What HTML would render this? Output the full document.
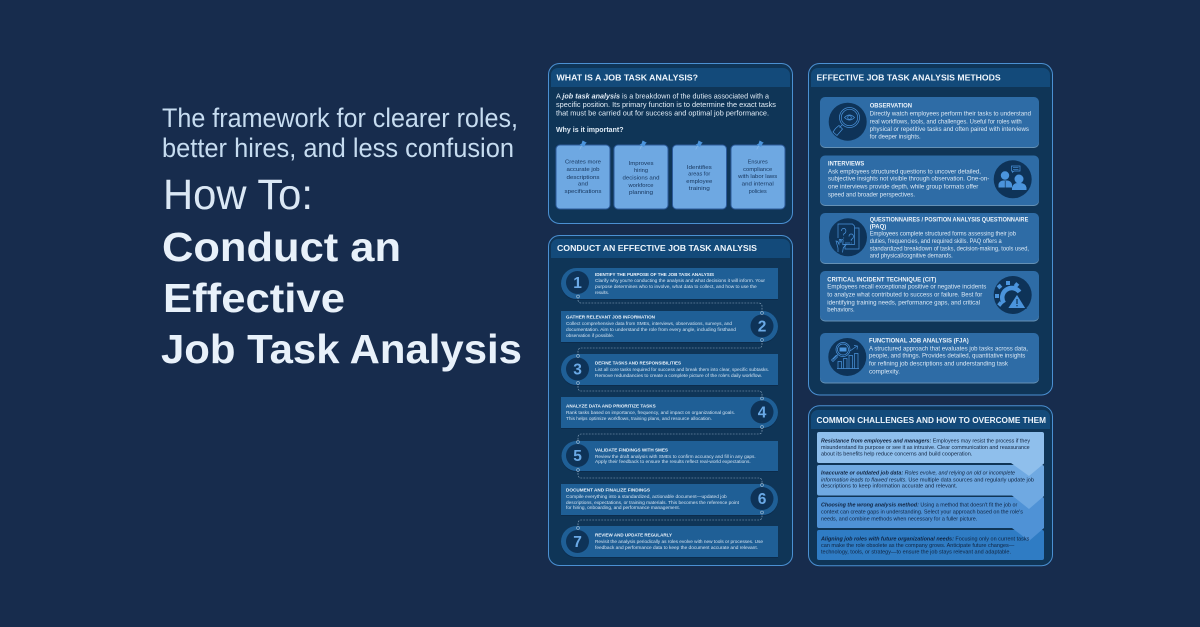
<!DOCTYPE html>
<html><head><meta charset="utf-8"><style>
html,body{margin:0;padding:0;background:#172c4d;width:1200px;height:627px;overflow:hidden}
svg{display:block}
text{font-family:"Liberation Sans",sans-serif}
.h{font-weight:700;font-size:8.6px;fill:#eef5fc}
.p{font-size:7px;fill:#e2edf7}
.c{font-size:5.5px;fill:#17355c;text-anchor:middle}
.st{font-size:4.9px;font-weight:700;fill:#eef5fc}
.sb{font-size:4.9px;fill:#d3e2f0}
.mt{font-size:6px;font-weight:700;fill:#eef5fc}
.mb{font-size:6px;fill:#dce9f5}
.r{font-size:5.6px;fill:#10233f}
.n{font-size:15.5px;font-weight:700;fill:#6aa9e6;text-anchor:middle}
.bi{font-weight:700;font-style:italic}
.i{font-style:italic}
.ic{fill:none;stroke:#4b94dc;stroke-width:.7}
.if{fill:#4b94dc}
.panel{fill:#0f3557;stroke:#4b90d2;stroke-width:1}
.hd{fill:#134a7a}
.card{fill:#6ea8e2;stroke:#2c5a9a;stroke-width:1}
.bar{fill:#1f5f96}
.sh{fill:#0c2c4c}
.cir{fill:#0e3358}
.m{fill:#2e6ca6}
.ms{fill:#6591b5}
.dash{fill:none;stroke:#8fabc4;stroke-width:.6;stroke-dasharray:1.8 1.2}
.dot{fill:#1f5f96;stroke:#a5bfd6;stroke-width:.6}
</style></head><body>
<svg width="1200" height="627" viewBox="0 0 1200 627" xmlns="http://www.w3.org/2000/svg">
<defs><g id="pin"><path d="M582.6 140.500l4.200 2.300-1.100 .7-1.600 3 .9 1-5.400-3 1.900-.7 1-3.100z" fill="#4b94dc"/><path d="M581.500 146l-1.800 3.400" stroke="#8fbfec" stroke-width=".6" fill="none"/></g></defs>
<rect width="1200" height="627" fill="#172c4d"/>

<!-- left headline -->
<text x="162" y="127" font-size="26.5" fill="#c6dcf0" textLength="356" lengthAdjust="spacingAndGlyphs">The framework for clearer roles,</text>
<text x="162" y="157" font-size="26.5" fill="#c6dcf0" textLength="352" lengthAdjust="spacingAndGlyphs">better hires, and less confusion</text>
<text x="163" y="209" font-size="43" fill="#dbe8f5" textLength="150" lengthAdjust="spacingAndGlyphs">How To:</text>
<text x="162" y="261" font-size="41" font-weight="700" fill="#e8f1fa" textLength="239" lengthAdjust="spacingAndGlyphs">Conduct an</text>
<text x="163" y="312" font-size="41" font-weight="700" fill="#e8f1fa" textLength="182" lengthAdjust="spacingAndGlyphs">Effective</text>
<text x="161" y="363" font-size="41" font-weight="700" fill="#e8f1fa" textLength="361" lengthAdjust="spacingAndGlyphs">Job Task Analysis</text>

<!-- Panel 1 -->
<rect class="panel" x="548.5" y="63.5" width="244" height="160" rx="11"/>
<path class="hd" d="M551 87V75a7 7 0 0 1 7-7H783a7 7 0 0 1 7 7V87Z"/>
<text class="h" x="556.5" y="80.5" textLength="141.5" lengthAdjust="spacingAndGlyphs">WHAT IS A JOB TASK ANALYSIS?</text>
<text class="p" x="556" y="98.5" textLength="213" lengthAdjust="spacingAndGlyphs">A <tspan class="bi">job task analysis</tspan> is a breakdown of the duties associated with a</text>
<text class="p" x="556" y="107" textLength="220" lengthAdjust="spacingAndGlyphs">specific position. Its primary function is to determine the exact tasks</text>
<text class="p" x="556" y="115.5" textLength="213" lengthAdjust="spacingAndGlyphs">that must be carried out for success and optimal job performance.</text>
<text class="p" x="556" y="132" font-weight="700" textLength="67.5" lengthAdjust="spacingAndGlyphs">Why is it important?</text>

<rect class="card" x="556" y="145" width="54" height="64" rx="4"/>
<rect class="card" x="614" y="145" width="54" height="64" rx="4"/>
<rect class="card" x="672.5" y="145" width="54" height="64" rx="4"/>
<rect class="card" x="731" y="145" width="54" height="64" rx="4"/>
<use href="#pin"/>
<use href="#pin" x="60"/>
<use href="#pin" x="116"/>
<use href="#pin" x="177"/>
<text class="c" x="583" y="163.5" textLength="36" lengthAdjust="spacingAndGlyphs">Creates more</text>
<text class="c" x="583" y="170.8" textLength="33" lengthAdjust="spacingAndGlyphs">accurate job</text>
<text class="c" x="583" y="178.8" textLength="33" lengthAdjust="spacingAndGlyphs">descriptions</text>
<text class="c" x="583" y="185.5" textLength="10" lengthAdjust="spacingAndGlyphs">and</text>
<text class="c" x="583" y="192.8" textLength="37" lengthAdjust="spacingAndGlyphs">specifications</text>
<text class="c" x="641" y="164.8" textLength="25" lengthAdjust="spacingAndGlyphs">Improves</text>
<text class="c" x="641" y="172" textLength="14" lengthAdjust="spacingAndGlyphs">hiring</text>
<text class="c" x="641" y="179.4" textLength="37" lengthAdjust="spacingAndGlyphs">decisions and</text>
<text class="c" x="641" y="186.8" textLength="25" lengthAdjust="spacingAndGlyphs">workforce</text>
<text class="c" x="641" y="193.8" textLength="24" lengthAdjust="spacingAndGlyphs">planning</text>
<text class="c" x="699.3" y="168.8" textLength="25" lengthAdjust="spacingAndGlyphs">Identifies</text>
<text class="c" x="699.3" y="175.4" textLength="22" lengthAdjust="spacingAndGlyphs">areas for</text>
<text class="c" x="699.3" y="182.8" textLength="26" lengthAdjust="spacingAndGlyphs">employee</text>
<text class="c" x="699.3" y="190" textLength="21" lengthAdjust="spacingAndGlyphs">training</text>
<text class="c" x="757.7" y="163.5" textLength="20" lengthAdjust="spacingAndGlyphs">Ensures</text>
<text class="c" x="757.7" y="170.8" textLength="29" lengthAdjust="spacingAndGlyphs">compliance</text>
<text class="c" x="757.7" y="177.8" textLength="39" lengthAdjust="spacingAndGlyphs">with labor laws</text>
<text class="c" x="757.7" y="185.5" textLength="32" lengthAdjust="spacingAndGlyphs">and internal</text>
<text class="c" x="757.7" y="192.8" textLength="18" lengthAdjust="spacingAndGlyphs">policies</text>

<!-- Panel 2 -->
<rect class="panel" x="548.5" y="235.5" width="244" height="330" rx="11"/>
<path class="hd" d="M551 258V246a7 7 0 0 1 7-7H783a7 7 0 0 1 7 7V258Z"/>
<text class="h" x="557" y="251" textLength="200" lengthAdjust="spacingAndGlyphs">CONDUCT AN EFFECTIVE JOB TASK ANALYSIS</text>

<!-- shadows -->
<g class="sh">
<path d="M576.5 269H778V300H576.5a15.5 15.5 0 0 1 0-31Z"/>
<path d="M561 312H762.5a15.5 15.5 0 0 1 0 31H561Z"/>
<path d="M576.5 355H778V386H576.5a15.5 15.5 0 0 1 0-31Z"/>
<path d="M561 398H762.5a15.5 15.5 0 0 1 0 31H561Z"/>
<path d="M576.5 442H778V472H576.5a15 15 0 0 1 0-30Z"/>
<path d="M561 485H762.5a15.5 15.5 0 0 1 0 31H561Z"/>
<path d="M576.5 527H778V558H576.5a15.5 15.5 0 0 1 0-31Z"/>
</g>
<g class="bar">
<path d="M576.5 268H778V299H576.5a15.5 15.5 0 0 1 0-31Z"/>
<path d="M561 311H762.5a15.5 15.5 0 0 1 0 31H561Z"/>
<path d="M576.5 354H778V385H576.5a15.5 15.5 0 0 1 0-31Z"/>
<path d="M561 397H762.5a15.5 15.5 0 0 1 0 31H561Z"/>
<path d="M576.5 441H778V471H576.5a15 15 0 0 1 0-30Z"/>
<path d="M561 484H762.5a15.5 15.5 0 0 1 0 31H561Z"/>
<path d="M576.5 526H778V557H576.5a15.5 15.5 0 0 1 0-31Z"/>
</g>
<g class="cir">
<circle cx="577.5" cy="282.5" r="11.5"/>
<circle cx="762" cy="326" r="11.5"/>
<circle cx="577.5" cy="369" r="11.5"/>
<circle cx="762" cy="412" r="11.5"/>
<circle cx="577.5" cy="455.5" r="11.5"/>
<circle cx="762" cy="498.5" r="11.5"/>
<circle cx="577.5" cy="541.5" r="11.5"/>
</g>
<text class="n" x="577.5" y="288">1</text>
<text class="n" x="762" y="331.5">2</text>
<text class="n" x="577.5" y="374.5">3</text>
<text class="n" x="762" y="417.5">4</text>
<text class="n" x="577.5" y="461">5</text>
<text class="n" x="762" y="504">6</text>
<text class="n" x="577.5" y="547">7</text>

<!-- connectors -->
<path class="dash" d="M578 297v3a3 3 0 0 0 3 3H759a3 3 0 0 1 3 3v7"/>
<path class="dash" d="M762 340v5a3 3 0 0 1-3 3H581a3 3 0 0 0-3 3v5"/>
<path class="dash" d="M578 383v5a3 3 0 0 0 3 3H759a3 3 0 0 1 3 3v5"/>
<path class="dash" d="M762 427v4a3 3 0 0 1-3 3H581a3 3 0 0 0-3 3v5"/>
<path class="dash" d="M578 470v5a3 3 0 0 0 3 3H759a3 3 0 0 1 3 3v4"/>
<path class="dash" d="M762 512.5v4.5a3 3 0 0 1-3 3H581a3 3 0 0 0-3 3v5"/>
<g class="dot">
<circle cx="578" cy="296.5" r="1.4"/><circle cx="762" cy="313" r="1.4"/>
<circle cx="762" cy="340" r="1.4"/><circle cx="578" cy="356" r="1.4"/>
<circle cx="578" cy="383" r="1.4"/><circle cx="762" cy="398.5" r="1.4"/>
<circle cx="762" cy="427" r="1.4"/><circle cx="578" cy="442" r="1.4"/>
<circle cx="578" cy="470" r="1.4"/><circle cx="762" cy="485" r="1.4"/>
<circle cx="762" cy="512.5" r="1.4"/><circle cx="578" cy="528" r="1.4"/>
</g>

<!-- step text -->
<text class="st" x="595" y="275.8" textLength="119" lengthAdjust="spacingAndGlyphs">IDENTIFY THE PURPOSE OF THE JOB TASK ANALYSIS</text>
<text class="sb" x="595" y="282" textLength="170" lengthAdjust="spacingAndGlyphs">Clarify why you're conducting the analysis and what decisions it will inform. Your</text>
<text class="sb" x="595" y="287.8" textLength="161.7" lengthAdjust="spacingAndGlyphs">purpose determines who to involve, what data to collect, and how to use the</text>
<text class="sb" x="595" y="294" textLength="14" lengthAdjust="spacingAndGlyphs">results.</text>

<text class="st" x="566" y="318.7" textLength="89" lengthAdjust="spacingAndGlyphs">GATHER RELEVANT JOB INFORMATION</text>
<text class="sb" x="566" y="324.8" textLength="166" lengthAdjust="spacingAndGlyphs">Collect comprehensive data from SMEs, interviews, observations, surveys, and</text>
<text class="sb" x="566" y="330.8" textLength="170" lengthAdjust="spacingAndGlyphs">documentation. Aim to understand the role from every angle, including firsthand</text>
<text class="sb" x="566" y="337" textLength="48" lengthAdjust="spacingAndGlyphs">observation if possible.</text>

<text class="st" x="595" y="364.7" textLength="86" lengthAdjust="spacingAndGlyphs">DEFINE TASKS AND RESPONSIBILITIES</text>
<text class="sb" x="595" y="370.8" textLength="174" lengthAdjust="spacingAndGlyphs">List all core tasks required for success and break them into clear, specific subtasks.</text>
<text class="sb" x="595" y="376.8" textLength="167" lengthAdjust="spacingAndGlyphs">Remove redundancies to create a complete picture of the role's daily workflow.</text>

<text class="st" x="566" y="407.3" textLength="89.7" lengthAdjust="spacingAndGlyphs">ANALYZE DATA AND PRIORITIZE TASKS</text>
<text class="sb" x="566" y="413.8" textLength="169" lengthAdjust="spacingAndGlyphs">Rank tasks based on importance, frequency, and impact on organizational goals.</text>
<text class="sb" x="566" y="419.8" textLength="146" lengthAdjust="spacingAndGlyphs">This helps optimize workflows, training plans, and resource allocation.</text>

<text class="st" x="595" y="451.7" textLength="73" lengthAdjust="spacingAndGlyphs">VALIDATE FINDINGS WITH SMES</text>
<text class="sb" x="595" y="457.8" textLength="160.7" lengthAdjust="spacingAndGlyphs">Review the draft analysis with SMEs to confirm accuracy and fill in any gaps.</text>
<text class="sb" x="595" y="462.8" textLength="155.7" lengthAdjust="spacingAndGlyphs">Apply their feedback to ensure the results reflect real-world expectations.</text>

<text class="st" x="566" y="491.7" textLength="84" lengthAdjust="spacingAndGlyphs">DOCUMENT AND FINALIZE FINDINGS</text>
<text class="sb" x="566" y="498" textLength="160.7" lengthAdjust="spacingAndGlyphs">Compile everything into a standardized, actionable document—updated job</text>
<text class="sb" x="566" y="503.8" textLength="173" lengthAdjust="spacingAndGlyphs">descriptions, expectations, or training materials. This becomes the reference point</text>
<text class="sb" x="566" y="508.8" textLength="114" lengthAdjust="spacingAndGlyphs">for hiring, onboarding, and performance management.</text>

<text class="st" x="595" y="536.7" textLength="77" lengthAdjust="spacingAndGlyphs">REVIEW AND UPDATE REGULARLY</text>
<text class="sb" x="595" y="542.8" textLength="168" lengthAdjust="spacingAndGlyphs">Revisit the analysis periodically as roles evolve with new tools or processes. Use</text>
<text class="sb" x="595" y="548.8" textLength="163" lengthAdjust="spacingAndGlyphs">feedback and performance data to keep the document accurate and relevant.</text>

<!-- Panel 3 -->
<rect class="panel" x="808.5" y="63.5" width="244" height="331.5" rx="11"/>
<path class="hd" d="M811 87V75a7 7 0 0 1 7-7H1043a7 7 0 0 1 7 7V87Z"/>
<text class="h" x="816.5" y="80.5" textLength="184.2" lengthAdjust="spacingAndGlyphs">EFFECTIVE JOB TASK ANALYSIS METHODS</text>

<g class="ms">
<rect x="820" y="98" width="219" height="50" rx="5"/>
<rect x="820" y="156.5" width="219" height="49.5" rx="5"/>
<rect x="820" y="214" width="219" height="50" rx="5"/>
<rect x="820" y="272" width="219" height="49.5" rx="5"/>
<rect x="820" y="334" width="219" height="49.5" rx="5"/>
</g>
<g class="m">
<rect x="820" y="97" width="219" height="50" rx="5"/>
<rect x="820" y="155.5" width="219" height="49.5" rx="5"/>
<rect x="820" y="213" width="219" height="50" rx="5"/>
<rect x="820" y="271" width="219" height="49.5" rx="5"/>
<rect x="820" y="333" width="219" height="49.5" rx="5"/>
</g>
<g class="cir">
<circle cx="847.7" cy="121.7" r="19"/>
<circle cx="1012.7" cy="179.3" r="19"/>
<circle cx="848" cy="237.3" r="19"/>
<circle cx="1012.7" cy="295" r="19"/>
<circle cx="847.3" cy="357" r="19"/>
</g>

<!-- icon 1: magnifier with eye -->
<g class="ic">
<circle cx="849.5" cy="117.5" r="10"/>
<circle cx="849.5" cy="117.5" r="8.2"/>
<path d="M844.5 117.5q5-5 10 0q-5 5-10 0Z"/>
<circle cx="849.5" cy="117.5" r="1.8"/>
<path d="M842.500 124.500l-3 3M835.500 128.500l3.500-3 3.500 3.500-5.500 6.500-4-3.500z"/>
</g>
<!-- icon 2: people -->
<g class="if">
<circle cx="1005" cy="175.500" r="4.200"/>
<path d="M998.500 187.500v-3a5 4.500 0 0 1 5-4h3.500a5 4.500 0 0 1 5 4v3Z"/>
<circle cx="1019" cy="179" r="4.500"/>
<path d="M1012 190v-2.500a6 5 0 0 1 6-4.500h2.500a6 5 0 0 1 6 4.500v2.500Z"/>
</g>
<path class="ic" d="M1011.500 166h8.500v5h-6l-1.500 1.300v-1.300h-1Z M1013 167.700h5.500M1013 169.300h5.500"/>
<path d="M1005.200 181v6.500" stroke="#0e3358" stroke-width=".7"/>
<!-- icon 3: forms -->
<g class="ic">
<path d="M838 238v-14h14.500l2 2v18.500h-11"/>
<path d="M854.500 228h4.500v21h-14v-4.500"/>
<path d="M841.500 231q0-2.500 2.200-2.500t2.200 2.500q0 2-2.200 3v1.500M843.700 237.500v1"/>
<path d="M849 236.500q0-2.500 2.200-2.500t2.200 2.500q0 2-2.200 3v1.500M851.200 242.500v1"/>
<path d="M838 252v-4l-2-7 1.500 .3 1.500 3 .3-5 1.300 0 .2 3.500 1-3.500 1.300 .5-.3 5 3.500-.3-3 3.200-.8 4.800"/>
<path d="M845 243h5"/>
</g>
<!-- icon 4: gear & warning -->
<path d="M1004 303a9.500 9.500 0 1 1 15.500-11" fill="none" stroke="#4b94dc" stroke-width="4.500"/>
<g class="if">
<rect x="1006" y="281" width="4" height="4"/>
<rect x="1014.500" y="283" width="4" height="4" transform="rotate(40 1016.500 285)"/>
<rect x="997.500" y="284.500" width="4" height="4" transform="rotate(-40 999.500 286.500)"/>
<rect x="995" y="294" width="4" height="4"/>
<rect x="998" y="302" width="4" height="4" transform="rotate(40 1000 304)"/>
</g>
<path d="M1017 294l9 14.500h-18.500Z" class="if" stroke="#0e3358" stroke-width="1"/>
<rect x="1016.400" y="299" width="1.200" height="5" fill="#0e3358"/>
<rect x="1016.400" y="305" width="1.200" height="1.300" fill="#0e3358"/>
<!-- icon 5: magnifier & bars -->
<g class="ic">
<circle cx="843" cy="349.500" r="7"/>
<circle cx="843" cy="349.500" r="5.500"/>
<rect x="839.500" y="347.500" width="7" height="4" fill="#4b94dc" stroke="none"/>
<path d="M838 354.500l-5 5M836.500 355l-5 5 1.500 1.500 5-5"/>
<path d="M838 368.500v-7h3.500v7M843.500 368.500v-10h3.500v10M849 368.500v-13h3.500v13M854.500 368.500v-15h3.500v15M837 368.500h22"/>
<path d="M850 351l7-5M854 345.500l3.500 .5-.5 3.500"/>
</g>

<!-- method text -->
<text class="mt" x="869.7" y="107.7" textLength="42.3" lengthAdjust="spacingAndGlyphs">OBSERVATION</text>
<text class="mb" x="869.7" y="115.7" textLength="161.3" lengthAdjust="spacingAndGlyphs">Directly watch employees perform their tasks to understand</text>
<text class="mb" x="869.7" y="123.3" textLength="152" lengthAdjust="spacingAndGlyphs">real workflows, tools, and challenges. Useful for roles with</text>
<text class="mb" x="869.7" y="131" textLength="159.3" lengthAdjust="spacingAndGlyphs">physical or repetitive tasks and often paired with interviews</text>
<text class="mb" x="869.7" y="138.7" textLength="51" lengthAdjust="spacingAndGlyphs">for deeper insights.</text>

<text class="mt" x="828" y="165.3" textLength="36.3" lengthAdjust="spacingAndGlyphs">INTERVIEWS</text>
<text class="mb" x="828" y="173.3" textLength="153" lengthAdjust="spacingAndGlyphs">Ask employees structured questions to uncover detailed,</text>
<text class="mb" x="828" y="180.7" textLength="161.3" lengthAdjust="spacingAndGlyphs">subjective insights not visible through observation. One-on-</text>
<text class="mb" x="828" y="188.7" textLength="150.3" lengthAdjust="spacingAndGlyphs">one interviews provide depth, while group formats offer</text>
<text class="mb" x="828" y="196.7" textLength="87" lengthAdjust="spacingAndGlyphs">speed and broader perspectives.</text>

<text class="mt" x="869.7" y="221.7" textLength="158.6" lengthAdjust="spacingAndGlyphs">QUESTIONNAIRES / POSITION ANALYSIS QUESTIONNAIRE</text>
<text class="mt" x="869.7" y="228.7" textLength="16.6" lengthAdjust="spacingAndGlyphs">(PAQ)</text>
<text class="mb" x="869.7" y="235.7" textLength="146.3" lengthAdjust="spacingAndGlyphs">Employees complete structured forms assessing their job</text>
<text class="mb" x="869.7" y="243" textLength="132" lengthAdjust="spacingAndGlyphs">duties, frequencies, and required skills. PAQ offers a</text>
<text class="mb" x="869.7" y="250.7" textLength="159.3" lengthAdjust="spacingAndGlyphs">standardized breakdown of tasks, decision-making, tools used,</text>
<text class="mb" x="869.7" y="257.7" textLength="83" lengthAdjust="spacingAndGlyphs">and physical/cognitive demands.</text>

<text class="mt" x="827.3" y="281.3" textLength="109" lengthAdjust="spacingAndGlyphs">CRITICAL INCIDENT TECHNIQUE (CIT)</text>
<text class="mb" x="827.3" y="288.7" textLength="159" lengthAdjust="spacingAndGlyphs">Employees recall exceptional positive or negative incidents</text>
<text class="mb" x="827.3" y="296.7" textLength="155" lengthAdjust="spacingAndGlyphs">to analyze what contributed to success or failure. Best for</text>
<text class="mb" x="827.3" y="304.7" textLength="152.7" lengthAdjust="spacingAndGlyphs">identifying training needs, performance gaps, and critical</text>
<text class="mb" x="827.3" y="311.7" textLength="27.4" lengthAdjust="spacingAndGlyphs">behaviors.</text>

<text class="mt" x="869" y="342.3" textLength="99.7" lengthAdjust="spacingAndGlyphs">FUNCTIONAL JOB ANALYSIS (FJA)</text>
<text class="mb" x="869" y="350.7" textLength="159" lengthAdjust="spacingAndGlyphs">A structured approach that evaluates job tasks across data,</text>
<text class="mb" x="869" y="357.7" textLength="156.3" lengthAdjust="spacingAndGlyphs">people, and things. Provides detailed, quantitative insights</text>
<text class="mb" x="869" y="365.7" textLength="139" lengthAdjust="spacingAndGlyphs">for refining job descriptions and understanding task</text>
<text class="mb" x="869" y="373.7" textLength="31" lengthAdjust="spacingAndGlyphs">complexity.</text>

<!-- Panel 4 -->
<rect class="panel" x="808.5" y="405.7" width="244" height="160" rx="11"/>
<path class="hd" d="M811 429V417a7 7 0 0 1 7-7H1043a7 7 0 0 1 7 7V429Z"/>
<text class="h" x="816.5" y="423" textLength="229.5" lengthAdjust="spacingAndGlyphs">COMMON CHALLENGES AND HOW TO OVERCOME THEM</text>

<rect x="817" y="530" width="227" height="30" rx="2" fill="#2f7cc4"/>
<path d="M817 499a2 2 0 0 1 2-2H1042a2 2 0 0 1 2 2V528L1029 541L1012 528H819a2 2 0 0 1-2-2Z" fill="#4f92d6"/>
<path d="M817 467a2 2 0 0 1 2-2H1042a2 2 0 0 1 2 2V496L1029 509L1012 495.5H819a2 2 0 0 1-2-2Z" fill="#6fa9e2"/>
<path d="M817 434a2 2 0 0 1 2-2H1042a2 2 0 0 1 2 2V463.5L1029 476L1011 463H819a2 2 0 0 1-2-2Z" fill="#8fbfec"/>

<text class="r" x="821" y="442.3" textLength="209" lengthAdjust="spacingAndGlyphs"><tspan class="bi">Resistance from employees and managers:</tspan> Employees may resist the process if they</text>
<text class="r" x="821" y="449" textLength="208.7" lengthAdjust="spacingAndGlyphs">misunderstand its purpose or see it as intrusive. Clear communication and reassurance</text>
<text class="r" x="821" y="455.7" textLength="151.3" lengthAdjust="spacingAndGlyphs">about its benefits help reduce concerns and build cooperation.</text>

<text class="r" x="821" y="474.7" textLength="194" lengthAdjust="spacingAndGlyphs"><tspan class="bi">Inaccurate or outdated job data:</tspan> <tspan class="i">Roles evolve, and relying on old or incomplete</tspan></text>
<text class="r" x="821" y="481.7" textLength="213" lengthAdjust="spacingAndGlyphs"><tspan class="i">information leads to flawed results.</tspan> Use multiple data sources and regularly update job</text>
<text class="r" x="821" y="487.7" textLength="136.3" lengthAdjust="spacingAndGlyphs">descriptions to keep information accurate and relevant.</text>

<text class="r" x="821" y="506.7" textLength="196.3" lengthAdjust="spacingAndGlyphs"><tspan class="bi">Choosing the wrong analysis method:</tspan> Using a method that doesn't fit the job or</text>
<text class="r" x="821" y="513.7" textLength="202" lengthAdjust="spacingAndGlyphs">context can create gaps in understanding. Select your approach based on the role's</text>
<text class="r" x="821" y="520.3" textLength="156.3" lengthAdjust="spacingAndGlyphs">needs, and combine methods when necessary for a fuller picture.</text>

<text class="r" x="821" y="540.3" textLength="208.3" lengthAdjust="spacingAndGlyphs"><tspan class="bi">Aligning job roles with future organizational needs:</tspan> Focusing only on current tasks</text>
<text class="r" x="821" y="547" textLength="193.3" lengthAdjust="spacingAndGlyphs">can make the role obsolete as the company grows. Anticipate future changes—</text>
<text class="r" x="821" y="553.3" textLength="190" lengthAdjust="spacingAndGlyphs">technology, tools, or strategy—to ensure the job stays relevant and adaptable.</text>
</svg>
</body></html>
